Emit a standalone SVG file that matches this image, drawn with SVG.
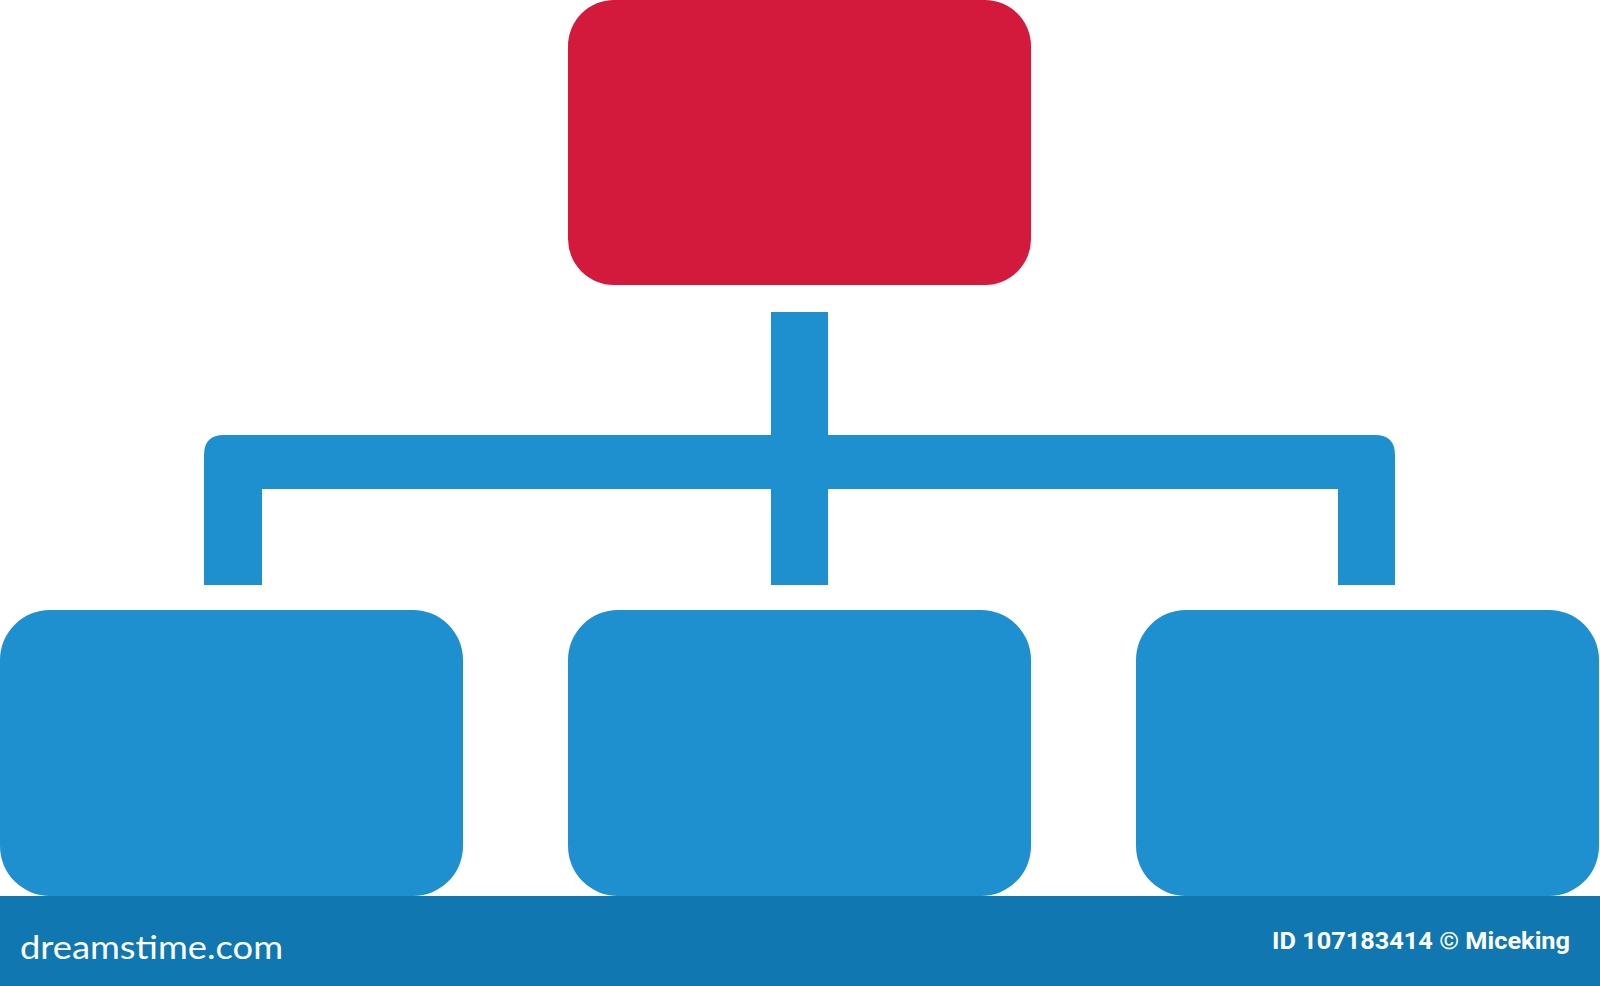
<svg xmlns="http://www.w3.org/2000/svg" width="1600" height="986" viewBox="0 0 1600 986">
<style>
.blue{fill:#1e8fcf}
.red{fill:#d31a3c}
.wm{fill:#ffffff}
</style>
<rect width="1600" height="986" fill="#ffffff"/>
<g id="root"><rect class="red" x="568" y="0" width="463" height="285" rx="46" ry="46"/></g>
<g id="connectors">
<rect class="blue" x="771" y="312" width="57" height="124"/>
<path class="blue" d="M204 585 V455 Q204 435 224 435 H1375 Q1395 435 1395 455 V585 H1338 V489 H828 V585 H771 V489 H262 V585 Z"/>
</g>
<g id="child-left"><rect class="blue" x="0" y="610" width="463" height="286" rx="50" ry="50"/></g>
<g id="child-middle"><rect class="blue" x="568" y="610" width="463" height="286" rx="50" ry="50"/></g>
<g id="child-right"><rect class="blue" x="1136" y="610" width="463" height="286" rx="50" ry="50"/></g>
<rect x="0" y="896" width="1600" height="90" fill="#1177b0"/>
<text class="wm" x="20" y="959" font-family="Lato, 'Liberation Sans', sans-serif" font-size="32" textLength="263" lengthAdjust="spacingAndGlyphs">dreamstime.com</text>
<text class="wm" x="1272" y="949" font-family="Roboto, 'Liberation Sans', sans-serif" font-weight="bold" font-size="24" textLength="298" lengthAdjust="spacingAndGlyphs">ID 107183414 © Miceking</text>
</svg>
